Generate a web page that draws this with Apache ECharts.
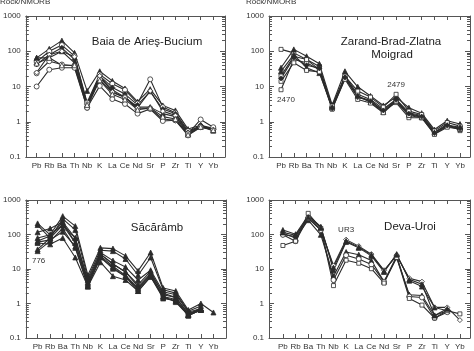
<!DOCTYPE html>
<html>
<head>
<meta charset="utf-8">
<script src="https://cdn.jsdelivr.net/npm/echarts@6/dist/echarts.min.js"></script>
<style>
  html, body { margin: 0; padding: 0; background: #fff; }
  #chart { width: 474px; height: 351px; }
</style>
</head>
<body>
<div id="chart"></div>
<script>
// element order on the x axis
const categories = ['Pb', 'Rb', 'Ba', 'Th', 'Nb', 'K', 'La', 'Ce', 'Nd', 'Sr', 'P', 'Zr', 'Ti', 'Y', 'Yb']
const yTickLabels = ['0.1', '1', '10', '100', '1000']
const yLabel = 'Rock/NMORB'

// Baia de Aries-Bucium
const baia1 = [65, 117, 200, 90, 7.5, 27, 14.4, 8.8, 3.7, 8.4, 2.9, 2.1, 0.62, 0.8, 0.6]
const baia2 = [50, 100, 150, 73, 3.5, 22, 12, 8, 3.3, 16, 2.6, 1.8, 0.55, 0.75, 0.62]
const baia3 = [42, 80, 125, 58, 3.0, 20, 9.4, 6.1, 3.0, 7.1, 2.3, 1.7, 0.5, 0.8, 0.65]
const baia4 = [65, 65, 100, 47, 2.9, 18, 8, 5, 2.6, 2.6, 1.7, 1.4, 0.45, 0.72, 0.56]
const baia5 = [23.6, 52, 42, 38, 2.5, 16, 6.8, 4.9, 2.3, 2.4, 1.2, 1.1, 0.41, 0.7, 0.6]
const baia6 = [10, 30, 34, 34, 2.5, 10.4, 4.4, 3.2, 1.7, 2.3, 1.05, 1.1, 0.45, 1.16, 0.7]
const baia7 = [25, 80, 100, 70, 3.2, 20, 7, 5, 2.5, 7.5, 2.0, 1.5, 0.48, 0.75, 0.6]
const baia8 = [45, 65, 40, 40, 3.0, 15, 6, 4.3, 2.2, 2.5, 1.4, 1.2, 0.43, 0.72, 0.58]

// Zarand-Brad-Zlatna Moigrad
const zar1 = [113, 90, 58, 37, 2.5, 20, 6, 4.3, 2.3, 4.3, 1.8, 1.5, 0.5, 0.86, 0.56]
const zar2 = [34, 113, 72, 44, 3.0, 27, 9.8, 5.4, 2.9, 5.0, 2.5, 1.75, 0.6, 1.07, 0.86]
const zar3 = [8.1, 58, 47, 30, 2.3, 17, 5.2, 4.0, 2.0, 3.5, 1.3, 1.3, 0.45, 0.75, 0.6]
const zar4 = [20, 72, 58, 30, 2.8, 19.6, 7.4, 5, 2.6, 6.0, 2.0, 1.6, 0.55, 0.95, 0.75]
const zar5 = [27, 80, 34, 24, 2.6, 18, 5.4, 3.6, 1.9, 4.0, 1.6, 1.35, 0.5, 0.8, 0.7]
const zar6 = [14, 47, 28.6, 26, 2.3, 16, 4.3, 3.4, 1.8, 3.8, 1.5, 1.3, 0.44, 0.7, 0.62]
const zar7 = [17, 65, 40, 33, 2.4, 18, 5, 3.8, 2.1, 4.2, 1.7, 1.4, 0.48, 0.78, 0.65]

// Sacaramb
const sac1 = [210, 98, 340, 175, 6.6, 41, 39, 24, 8.8, 30, 2.8, 2.3, 0.65, 1.0, 0.55]
const sac2 = [188, 79, 285, 136, 5.5, 35, 33, 19.5, 6.6, 21.6, 2.5, 2.0, 0.6, 0.85, null]
const sac3 = [116, 150, 230, 79, 4.8, 30, 17.5, 11.4, 4.8, 9.2, 2.2, 1.8, 0.56, 0.72, null]
const sac4 = [79, 98, 188, 57, 3.9, 27, 14, 8.2, 3.1, 7.4, 2.0, 1.5, 0.5, 0.72, null]
const sac5 = [33, 64, 150, 41, 3.1, 21.6, 10.2, 6, 2.3, 6, 1.6, 1.1, 0.45, 0.65, null]
const sac6 = [57, 52, 79, 21.6, 3.1, 15.7, 6.2, 4.8, 2.3, 6, 1.4, 1.2, 0.45, 0.65, null]
const sac7 = [37, 79, 188, 79, 4.2, 27, 14, 8.2, 3.5, 8.5, 1.8, 1.5, 0.5, 0.7, null]
const sac8 = [65, 90, 230, 57, 3.6, 24, 12, 6.5, 2.8, 7.0, 1.6, 1.3, 0.47, 0.68, null]
const sac9 = [60, 70, 120, 45, 3.3, 22, 11, 6, 2.6, 6.5, 1.5, 1.2, 0.45, 0.66, null]

// Deva-Uroi
const deva1 = [98, 88, 300, 135, 12.7, 71, 46, 27, 9.2, 24, 5.4, 4.3, 0.77, 0.77, 0.33]
const deva2 = [135, 102, 355, 168, 9.2, 61, 41, 24, 8.2, 27, 4.6, 3.1, 0.77, 0.62, null]
const deva3 = [109, 79, 260, 98, 6.2, 31, 26, 17.5, 4.3, 21.6, 1.8, 1.7, 0.45, 0.62, null]
const deva4 = [98, 64, 300, 135, 4.8, 25, 19.5, 13.5, 4.3, 24, 1.6, 1.5, 0.38, 0.56, null]
const deva5 = [48, 64, 410, 150, 3.3, 18, 14.7, 10.2, 3.9, 21.6, 1.4, 0.9, 0.38, 0.62, 0.5]
const deva6 = [115, 95, 320, 160, 11, 65, 43, 26, 8.8, 26, 5.0, 3.6, 0.45, 0.7, null]

const ink = '#2b2b2b'
const axisInk = '#555'
const font = 'Liberation Sans, Arial, sans-serif'

// symbol for every sample: 'o' = open, 'f' = filled
const panels = [
  {
    grid: { left: 22, top: 16, width: 203, height: 141 }, xMin: -0.86, xMax: 14.93,
    series: [[baia1, 'triangle', 'f'], [baia2, 'circle', 'o'], [baia3, 'diamond', 'f'], [baia4, 'triangle', 'f'],
      [baia5, 'circle', 'o'], [baia6, 'circle', 'o'], [baia7, 'diamond', 'o'], [baia8, 'triangle', 'o']],
    notes: [],
  },
  {
    grid: { left: 269, top: 16, width: 201, height: 141 }, xMin: -0.94, xMax: 14.78,
    series: [[zar1, 'rect', 'o'], [zar2, 'triangle', 'f'], [zar3, 'rect', 'o'], [zar4, 'rect', 'o'],
      [zar5, 'triangle', 'f'], [zar6, 'rect', 'o'], [zar7, 'diamond', 'f']],
    notes: [[2, 0, '2470', 'bottom', [5, 1]], [3, 9, '2479', 'top', [0, 0]]],
  },
  {
    grid: { left: 22, top: 200, width: 204, height: 143 }, xMin: -0.94, xMax: 15.0,
    series: [[sac1, 'triangle', 'f'], [sac2, 'triangle', 'f'], [sac3, 'triangle', 'f'], [sac4, 'triangle', 'f'],
      [sac5, 'triangle', 'f'], [sac6, 'triangle', 'f'], [sac7, 'triangle', 'f'], [sac8, 'triangle', 'f'], [sac9, 'triangle', 'f']],
    notes: [[4, 0, '776', 'bottom', [1, 0]]],
  },
  {
    grid: { left: 269, top: 200, width: 201, height: 143 }, xMin: -1.1, xMax: 14.8,
    series: [[deva1, 'diamond', 'o'], [deva2, 'triangle', 'f'], [deva3, 'triangle', 'f'], [deva4, 'circle', 'o'],
      [deva5, 'rect', 'o'], [deva6, 'triangle', 'f']],
    notes: [[0, 5, 'UR3', 'top', [0, 0]]],
  },
]

const catTicks = categories.map((c, i) => i)
const minorTicks = []
for (let d = -1; d < 3; d++) {
  for (let k = 2; k <= 9; k++) minorTicks.push(d + Math.log10(k))
}

const grid = []
const xAxis = []
const yAxis = []
const series = []

panels.forEach((p, pi) => {
  grid.push(p.grid)
  const xBase = {
    type: 'value', gridIndex: pi, min: p.xMin, max: p.xMax,
    axisLine: { onZero: false, lineStyle: { color: axisInk, width: 1 } },
    axisTick: { inside: true, length: 4, customValues: catTicks, lineStyle: { color: axisInk } },
    splitLine: { show: false },
  }
  xAxis.push({
    ...xBase, position: 'bottom',
    axisLabel: { customValues: catTicks, formatter: (v) => categories[Math.round(v)], fontSize: 8, color: '#333', margin: 5, fontFamily: font },
  })
  xAxis.push({ ...xBase, position: 'top', axisLabel: { show: false } })

  const major = (pos, labels) => ({
    type: 'log', logBase: 10, gridIndex: pi, min: 0.1, max: 1000, position: pos,
    axisLine: { onZero: false, lineStyle: { color: axisInk, width: 1 } },
    axisTick: { inside: true, length: 5, lineStyle: { color: axisInk } },
    axisLabel: labels
      ? { formatter: (v) => yTickLabels[Math.round(Math.log10(v)) + 1], fontSize: 8, color: '#333', margin: 5, fontFamily: font }
      : { show: false },
    splitLine: { show: false },
  })
  const minor = (pos) => ({
    type: 'value', gridIndex: pi, min: -1, max: 3, position: pos,
    axisLine: { show: false, onZero: false },
    axisTick: { inside: true, length: 3, customValues: minorTicks, lineStyle: { color: axisInk } },
    axisLabel: { show: false },
    splitLine: { show: false },
  })
  const yIndex = yAxis.length
  yAxis.push(major('left', true), minor('left'), major('right', false), minor('right'))

  p.series.forEach(([vals, sym, fill], si) => {
    const data = vals.map((v, i) => {
      if (v == null) return [i, null]
      const note = p.notes.find((n) => n[0] === si && n[1] === i)
      if (!note) return [i, v]
      return {
        value: [i, v],
        label: {
          show: true, formatter: note[2], position: note[3], offset: note[4], distance: 3,
          fontSize: 8, color: '#333', fontFamily: font,
        },
      }
    })
    series.push({
      type: 'line',
      xAxisIndex: pi * 2,
      yAxisIndex: yIndex,
      data,
      symbol: sym,
      symbolSize: sym === 'rect' ? 4 : 5,
      showAllSymbol: true,
      connectNulls: false,
      lineStyle: { color: ink, width: 1.1 },
      itemStyle: { color: fill === 'f' ? ink : '#fff', borderColor: ink, borderWidth: 0.8 },
      emphasis: { disabled: true },
      z: 3,
    })
  })
})

const textStyle = (size) => ({ fill: '#222', fontSize: size, fontFamily: font, textAlign: 'center', textVerticalAlign: 'middle' })

const chart = echarts.init(document.getElementById('chart'), null, { renderer: 'canvas' })
chart.setOption({
  animation: false,
  backgroundColor: '#fff',
  grid,
  xAxis,
  yAxis,
  series,
  graphic: [
    { type: 'text', left: 0, top: -2, style: { text: yLabel, fill: '#333', fontSize: 8, fontFamily: font } },
    { type: 'text', left: 246, top: -2, style: { text: yLabel, fill: '#333', fontSize: 8, fontFamily: font } },
    { type: 'text', x: 147, y: 42, style: { text: 'Baia de Arieş-Bucium', ...textStyle(11.5) } },
    { type: 'text', x: 391, y: 42, style: { text: 'Zarand-Brad-Zlatna', ...textStyle(11.5) } },
    { type: 'text', x: 392, y: 55, style: { text: 'Moigrad', ...textStyle(11.5) } },
    { type: 'text', x: 157, y: 228, style: { text: 'Săcărâmb', ...textStyle(11.5) } },
    { type: 'text', x: 410, y: 227, style: { text: 'Deva-Uroi', ...textStyle(11.5) } },
  ],
})
</script>
</body>
</html>
